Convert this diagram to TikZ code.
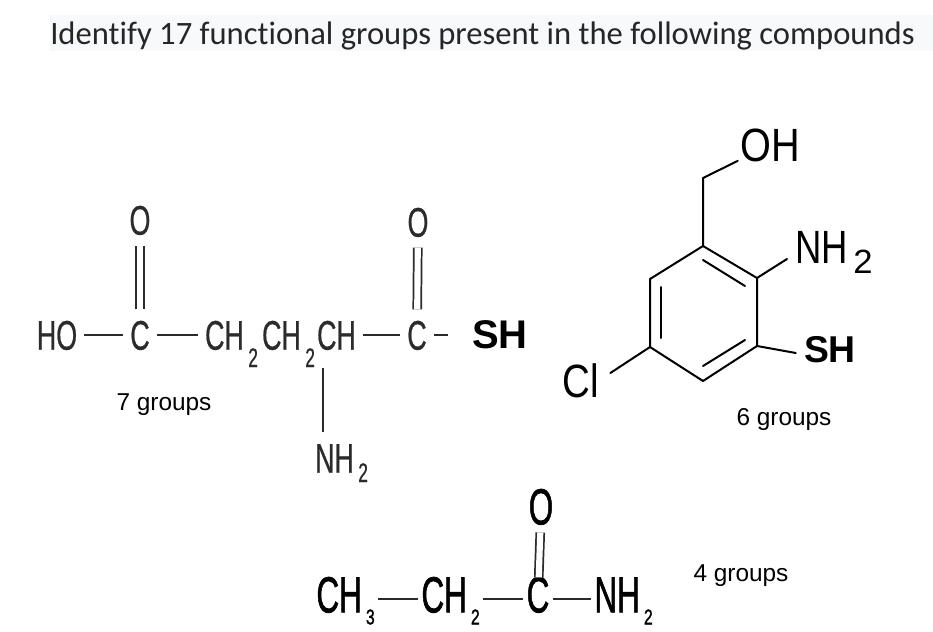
\documentclass[tikz,border=0pt]{standalone}
\usepackage{fontspec}
\usepackage{tikz}
\usepackage{xcolor}
\setmainfont{Liberation Sans}
\newfontfamily\titlefont[Ligatures=NoCommon]{Carlito}
\newfontfamily\blurfont[FakeBold=0.8]{Liberation Sans}
\newfontfamily\heavyfont[FakeBold=1.6]{Liberation Sans}
\newcommand{\chemsub}[3][7pt]{\kern5pt\raisebox{-#1}{\scalebox#2{#3}}}
\definecolor{scan-ink}{HTML}{2B2B2B}
\definecolor{title-band}{HTML}{F8F9FB}
\definecolor{title-ink}{HTML}{262626}
\tikzset{
    x=0.75pt, y=-0.75pt,
    title-text/.style = {font=\titlefont\fontsize{24.45}{28}\selectfont, text=title-ink, inner sep=0pt, anchor=base west},
    note-text/.style = {font=\fontsize{18.3}{22}\selectfont, inner sep=0pt},
    blur-label/.style = {font=\blurfont\fontsize{31}{31}\selectfont, text=scan-ink, xscale=0.65, transform shape, text height=22pt, text depth=0pt, inner xsep=8pt, inner ysep=8pt},
    wide-label/.style = {font=\heavyfont\fontsize{38}{38}\selectfont, text=black, xscale=0.62, transform shape, text height=23pt, text depth=3pt, inner xsep=4pt, inner ysep=3pt},
    ring-label/.style = {font=\fontsize{35}{35}\selectfont, xscale=0.85, transform shape, text height=25pt, text depth=0pt, inner sep=2pt},
    bold-label/.style = {font=\bfseries\fontsize{28}{28}\selectfont, text height=20pt, text depth=0pt, inner sep=2pt},
    blur-bond/.style = {draw=scan-ink, line width=1.5pt},
    heavy-bond/.style = {draw=scan-ink, line width=2pt},
    blur-double/.style = {draw=scan-ink, line width=1.3pt, double=white, double distance=4.6pt},
    ring-bond/.style = {draw=black, line width=1.5pt, line cap=round, line join=round},
}
\begin{document}
\begin{tikzpicture}
\useasboundingbox (0,0) rectangle (933,632);
\fill[title-band] (50,15) rectangle (933,51);
\node[title-text] (title) at (50,44) {Identify 17 functional groups present in the following compounds};

\node[blur-label] (ho) at (57,335) {HO};
\node[blur-label] (acidc) at (140,335) {C};
\node[blur-label] (acido) at (140,220) {O};
\node[blur-label, anchor=west] (cha) at (198,335) {CH\chemsub[13pt]{{.65}}{2}};
\node[blur-label, anchor=west] (chb) at (255,335) {CH\chemsub[13pt]{{.65}}{2}};
\node[blur-label, anchor=west] (chc) at (310,335) {CH};
\node[blur-label] (thioc) at (417,335) {C};
\node[blur-label] (thioo) at (418,222) {O};
\node[bold-label, font=\bfseries\fontsize{30}{30}\selectfont] (thiosh) at (500,335) {SH};
\node[blur-label, anchor=west] (amine) at (308,458) {NH\chemsub{{.65}}{2}};
\node[note-text] (note-a) at (164,405) {7 groups};
\coordinate (aminetop) at (323,368);
\coordinate (thioend) at (448,335);

\draw[blur-bond] (ho) -- (acidc);
\draw[blur-bond] (acidc) -- (cha);
\draw[blur-bond] (chc) -- (thioc);
\draw[blur-bond] (thioc) -- (thioend);
\draw[blur-double] (acidc) -- (acido);
\draw[blur-double] (thioc) -- (thioo);
\draw[draw=scan-ink, line width=1pt] (aminetop) -- (amine.north -| aminetop);

\coordinate (ring-a) at (703,246);
\coordinate (ring-b) at (757,278);
\coordinate (ring-c) at (757,346);
\coordinate (ring-d) at (703,381);
\coordinate (ring-e) at (650,347);
\coordinate (ring-f) at (650,279);
\coordinate (benzyl) at (703,178);
\node[ring-label] (oh) at (770,145) {OH};
\node[ring-label, xscale=0.92, anchor=west, inner xsep=8pt] (nh) at (787,247) {NH\chemsub{{.95}[.72]}{2}};
\node[bold-label, inner xsep=6pt] (sh) at (830,349) {SH};
\node[ring-label, xscale=0.97, inner xsep=10pt] (cl) at (581,381) {Cl};
\node[note-text] (note-b) at (784,420) {6 groups};

\draw[ring-bond] (ring-a) -- (ring-b) -- (ring-c) -- (ring-d) -- (ring-e) -- (ring-f) -- cycle;
\draw[ring-bond] (703,260) -- (745,286);
\draw[ring-bond] (661,287) -- (661,338);
\draw[ring-bond] (703,366) -- (745,340);
\draw[ring-bond] (ring-a) -- (benzyl) -- (oh);
\draw[ring-bond] (ring-b) -- ([yshift=-9pt]nh.west);
\draw[ring-bond] (ring-c) -- ([yshift=-3pt]sh.west);
\draw[ring-bond] (ring-e) -- ([yshift=6pt]cl.east);

\node[wide-label, anchor=west] (ch-three) at (313,599) {CH\chemsub[9pt]{{.5}[.42]}{3}};
\node[wide-label, anchor=west] (ch-two) at (418,599) {CH\chemsub[9pt]{{.5}[.42]}{2}};
\node[wide-label] (amidec) at (538,599) {C};
\node[wide-label] (amideo) at (541,511) {O};
\node[wide-label, anchor=west] (amiden) at (591,599) {NH\chemsub[9pt]{{.5}[.42]}{2}};
\node[note-text] (note-c) at (741,576) {4 groups};

\draw[heavy-bond] (ch-three) -- (ch-two);
\draw[heavy-bond] (ch-two) -- (amidec);
\draw[heavy-bond] (amidec) -- (amiden);
\draw[blur-double] (amidec) -- (amideo);
\end{tikzpicture}
\end{document}
